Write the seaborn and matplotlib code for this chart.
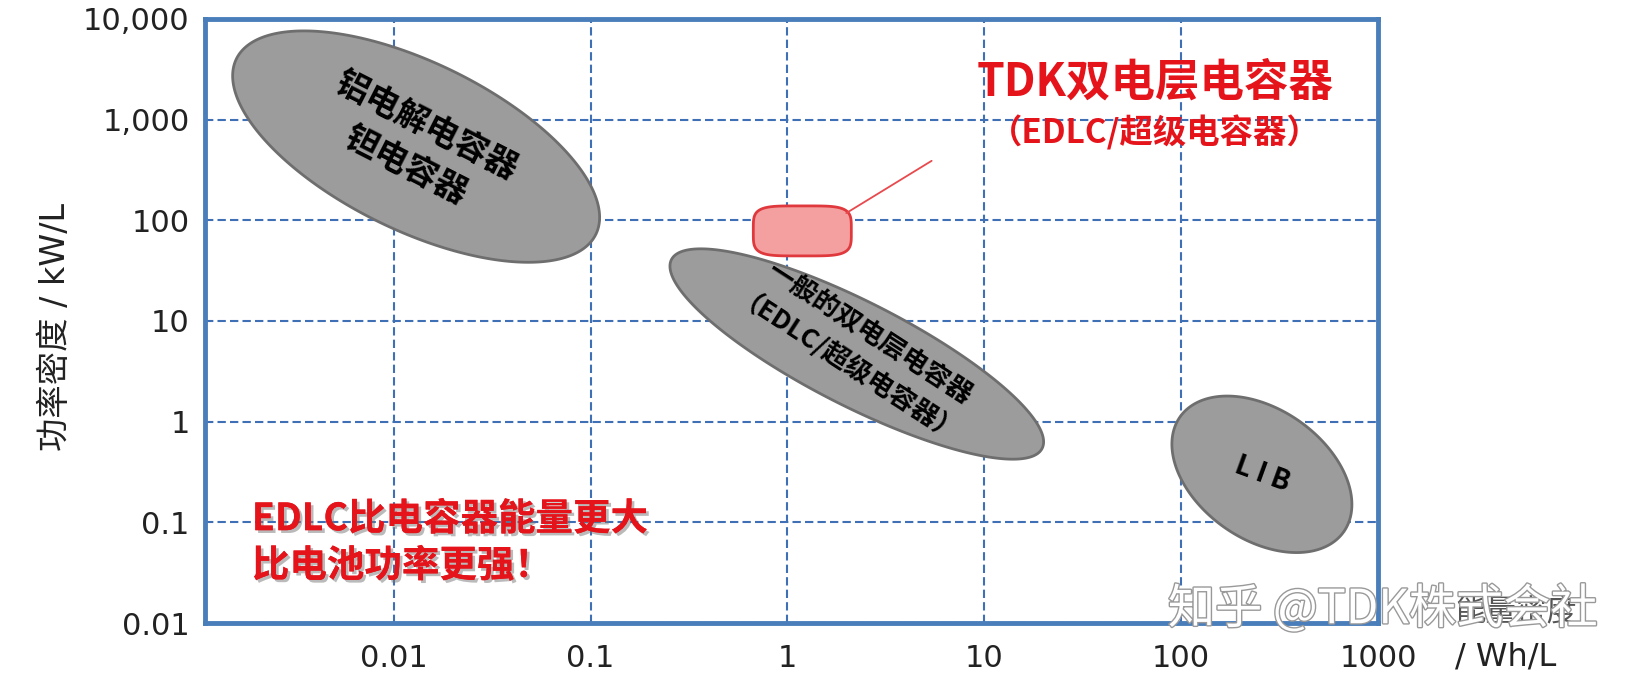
import numpy as np
import matplotlib.pyplot as plt
import matplotlib.patheffects as pe
import seaborn as sns

# 数据: 能量密度 (Wh/L) 与 功率密度 (kW/L) 区域中心
tech = ['铝电解电容器\n钽电容器', '一般的双电层电容器\n（EDLC/超级电容器）', 'L I B']
energy = [0.013, 2.25, 257]
power = [540, 4.7, 0.3]

tdk_energy = 1.19
tdk_power = 78.5
leader_energy = [1.99, 5.4]
leader_power = [118, 390]

x_ticks = [0.01, 0.1, 1, 10, 100, 1000]
x_labels = ['0.01', '0.1', '1', '10', '100', '1000']
y_ticks = [0.01, 0.1, 1, 10, 100, 1000, 10000]
y_labels = ['0.01', '0.1', '1', '10', '100', '1,000', '10,000']

sns.set_style('white')
plt.rcParams['font.family'] = ['Noto Sans CJK SC', 'DejaVu Sans']

blue = '#4a7ebb'
red = '#e5141b'

fig = plt.figure(figsize=(16.49, 6.78), dpi=100)
ax = fig.add_axes([0.1243, 0.0811, 0.8357 - 0.1243, 0.972 - 0.0811])
ax.set_xscale('log')
ax.set_yscale('log')
ax.set_xlim(0.0011, 1000)
ax.set_ylim(0.01, 10000)

for s in ax.spines.values():
    s.set_color(blue)
    s.set_linewidth(3.5)
    s.set_zorder(5)

ax.set_xticks(x_ticks)
ax.set_xticklabels(x_labels, family='DejaVu Sans')
ax.set_yticks(y_ticks)
ax.set_yticklabels(y_labels, family='DejaVu Sans')
ax.minorticks_off()
ax.tick_params(axis='both', length=0, labelsize=22, colors='#222222')
ax.tick_params(axis='x', pad=15)
ax.tick_params(axis='y', pad=11)
ax.grid(True, color='#3f6fb5', linestyle=(0, (4, 2)), linewidth=1.5)

ax.set_ylabel('功率密度 / kW/L', fontsize=24, color='#222222',
              family=['DejaVu Sans', 'Noto Sans CJK SC'])
ax.yaxis.set_label_coords(-0.113, 0.49)

# 每个数量级所占像素, 用于在像素空间画椭圆
bb = ax.get_window_extent()
dec_x = bb.width / np.log10(1000 / 0.0011)
dec_y = bb.height / np.log10(10000 / 0.01)


def region(cx, cy, a, b, ang, n=240):
    t = np.linspace(0, 2 * np.pi, n)
    u, v = a * np.cos(t), b * np.sin(t)
    th = np.radians(ang)
    dx = u * np.cos(th) + v * np.sin(th)
    dy = -u * np.sin(th) + v * np.cos(th)
    return cx * 10 ** (dx / dec_x), cy * 10 ** (dy / dec_y)


shapes = [(200, 84, 26), (208, 52, 27), (100, 65, 35)]
text_rot = [-27, -33, -20]
text_size = [24, 19, 20]
text_space = [1.45, 1.9, 1.2]
for i in range(3):
    a, b, ang = shapes[i]
    ex, ey = region(energy[i], power[i], a, b, ang)
    ax.fill(ex, ey, facecolor='#9c9c9c', edgecolor='#6e6e6e', linewidth=2, zorder=3)
    ax.text(energy[i], power[i], tech[i], rotation=text_rot[i], ha='center', va='center',
            fontsize=text_size[i], fontweight='bold', color='black', zorder=4,
            linespacing=text_space[i], rotation_mode='anchor')

# TDK 双电层电容器 (圆角矩形, 超椭圆近似)
w, h = 49, 25
t = np.linspace(0, 2 * np.pi, 400)
qx, qy = np.cos(t), np.sin(t)
sx = w * np.sign(qx) * np.abs(qx) ** 0.45
sy = h * np.sign(qy) * np.abs(qy) ** 0.45
ax.fill(tdk_energy * 10 ** (sx / dec_x), tdk_power * 10 ** (sy / dec_y),
        facecolor='#f5a0a0', edgecolor='#e0393d', linewidth=2, zorder=4)

sns.lineplot(x=leader_energy, y=leader_power, color='#e8494d', linewidth=1.3,
             sort=False, ax=ax, zorder=4)

ax.text(0.81, 0.895, 'TDK双电层电容器', transform=ax.transAxes, ha='center', va='center',
        fontsize=32, fontweight='bold', color=red, zorder=6)
ax.text(0.81, 0.812, '（EDLC/超级电容器）', transform=ax.transAxes, ha='center', va='center',
        fontsize=24, fontweight='bold', color=red, zorder=6)

shadow = [pe.withSimplePatchShadow(offset=(2, -2), shadow_rgbFace='#777777', alpha=0.5), pe.Normal()]
ax.text(0.04, 0.134, 'EDLC比电容器能量更大\n比电池功率更强！', transform=ax.transAxes,
        ha='left', va='center', fontsize=27, fontweight='bold', color=red,
        linespacing=1.25, zorder=6, path_effects=shadow)

# 横轴标题
fig.text(1455 / 1649, 1 - 612 / 678, '能量密度', fontsize=22, color='#555555', va='center')
fig.text(1455 / 1649, 1 - 657 / 678, '/ Wh/L', fontsize=23, color='#222222', va='center',
         family='DejaVu Sans')

# 水印
fig.text(1383 / 1649, 1 - 610 / 678, '知乎 @TDK株式会社', fontsize=34, color='white',
         ha='center', va='center', zorder=10,
         path_effects=[pe.withStroke(linewidth=2, foreground='#999999')])

fig.savefig('out.png', dpi=100)
